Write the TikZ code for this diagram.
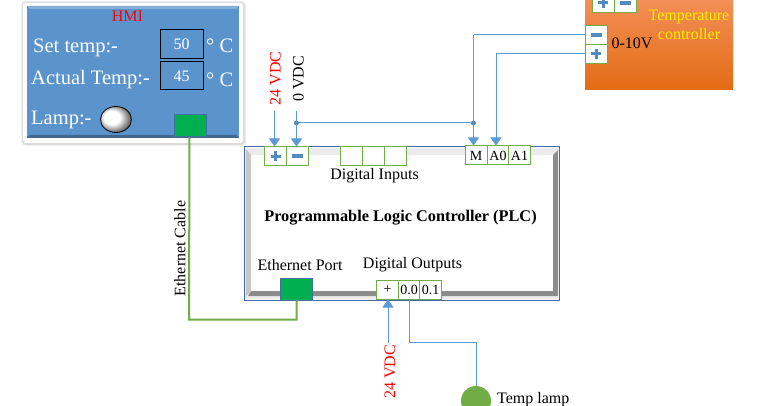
\documentclass[tikz,border=0pt]{standalone}
\usepackage{fontspec}
\setmainfont{Liberation Serif}
\usetikzlibrary{arrows.meta,calc,shapes.geometric}
\definecolor{wire}{HTML}{5B9BD5}
\definecolor{hmiblue}{HTML}{5B94CC}
\definecolor{gborder}{HTML}{70AD47}
\definecolor{portgreen}{HTML}{00B050}
\definecolor{portedge}{HTML}{41719C}
\definecolor{plcedge}{HTML}{4468A8}
\definecolor{ortop}{HTML}{F38F58}
\definecolor{orbot}{HTML}{E46C14}
\pgfdeclareradialshading{lampball}{\pgfpoint{-9bp}{5bp}}{color(0bp)=(white); color(13bp)=(white); color(27bp)=(black!60); color(50bp)=(black!60)}
\tikzset{
 lbl/.style={inner sep=0pt,font=\fontsize{16}{16}\selectfont},
 hmitext/.style={inner sep=0pt,text=white,font=\fontsize{20.5}{20.5}\selectfont},
 valbox/.style={draw=black,line width=1pt,minimum width=43pt,minimum height=29pt,inner sep=0pt,text=white,font=\fontsize{16}{16}\selectfont},
 term/.style={draw=gborder,line width=1pt,fill=white,minimum width=22pt,minimum height=19pt,inner sep=0pt,font=\fontsize{14}{14}\selectfont},
 port/.style={draw=portedge,line width=1pt,fill=portgreen,minimum width=32pt,minimum height=22pt,inner sep=0pt},
 feed/.style={draw=wire,line width=1pt},
 feedarrow/.style={feed,-{Triangle[length=8pt,width=11pt,fill=wire]}},
 eth/.style={draw=gborder,line width=2pt},
 junction/.style={circle,fill=wire!85!black,minimum size=5pt,inner sep=0pt}
}
\newcommand{\plusglyph}[1]{\fill[wire!90!black] ($(#1)+(-5,-1.5)$) rectangle ($(#1)+(5,1.5)$); \fill[wire!90!black] ($(#1)+(-1.5,-5)$) rectangle ($(#1)+(1.5,5)$);}
\newcommand{\minusglyph}[1]{\fill[wire!90!black] ($(#1)+(-5.5,-2)$) rectangle ($(#1)+(5.5,2)$);}
\begin{document}
\begin{tikzpicture}[x=1pt,y=-1pt]
\useasboundingbox (0,0) rectangle (773,406);
\clip (0,0) rectangle (773,406);
\fill[white] (0,0) rectangle (773,406);
% HMI panel
\fill[black!6,rounded corners=4pt] (21,1) rectangle (246,146);
\fill[black!14,rounded corners=4pt] (22,2) rectangle (245,145);
\fill[white,rounded corners=3pt] (23,3) rectangle (243,143);
\fill[hmiblue] (27,6) rectangle (239,138);
\fill[hmiblue!75!white] (27,6) -- (239,6) -- (236,9) -- (30,9) -- cycle;
\fill[hmiblue!70!black] (27,138) -- (239,138) -- (236,135) -- (30,135) -- cycle;
\node[inner sep=0pt,text=red,font=\fontsize{16}{16}\selectfont] (hmi) at (127.5,16) {HMI};
\node[hmitext,anchor=base west] (settemp) at (33,52.5) {Set temp:-};
\node[hmitext,anchor=base west] (acttemp) at (31,84.5) {Actual Temp:-};
\node[hmitext,anchor=base west] (lamplabel) at (31,124.5) {Lamp:-};
\node[valbox] (setval) at (181.5,44) {50};
\node[valbox,minimum height=28pt] (actval) at (181.5,76) {45};
\node[hmitext,anchor=base west] (deg1) at (206,52.5) {° C};
\node[hmitext,anchor=base west] (deg2) at (206,87) {° C};
\node[draw=black,line width=.8pt,ellipse,minimum width=31pt,minimum height=26pt,inner sep=0pt,shading=lampball] (hmilamp) at (116,119.5) {};
\node[port] (hmiport) at (190.5,126) {};
% PLC
\fill[white] (244,147) rectangle (559,300);
\fill[black!8] (245,148) rectangle (558,299);
\fill[white] (251,155) rectangle (553,291);
\fill[black!45] (251,291) -- (553,291) -- (553,155) -- (558,150) -- (558,296) -- (248,296) -- cycle;
\fill[black!22] (246,149) -- (251,155) -- (251,291) -- (246,296) -- cycle;
\draw[plcedge,line width=1pt] (244,147) rectangle (559,300);
\node[term] (plus) at (275.5,156.5) {};
\node[term] (minus) at (297.5,156.5) {};
\plusglyph{plus}
\minusglyph{minus}
\node[term] (di1) at (351,156.5) {};
\node[term] (di2) at (373,156.5) {};
\node[term] (di3) at (395,156.5) {};
\node[term] (mterm) at (476,155.5) {M};
\node[term] (azero) at (498,155.5) {A0};
\node[term] (aone) at (519.5,155.5) {A1};
\node[lbl] (dilabel) at (374.5,176) {Digital Inputs};
\node[lbl,font=\fontsize{16.3}{16.3}\selectfont\bfseries] (plc) at (400.5,218) {Programmable Logic Controller (PLC)};
\node[lbl] (ethlabel) at (300,265) {Ethernet Port};
\node[lbl] (dolabel) at (412.5,265) {Digital Outputs};
\node[port] (plcport) at (296.5,289) {};
\node[term] (doplus) at (387.5,289.5) {+};
\node[term] (dozero) at (409,289.5) {0.0};
\node[term] (doone) at (430.5,289.5) {0.1};
% Temperature controller
\shade[top color=ortop,bottom color=orbot] (585,-2) rectangle (733,90);
\node[term] (tcplus) at (603,3) {};
\node[term] (tcminus) at (625,3) {};
\plusglyph{tcplus}
\minusglyph{tcminus}
\node[term] (outminus) at (596,35) {};
\node[term] (outplus) at (596,54) {};
\minusglyph{outminus}
\plusglyph{outplus}
\node[lbl] (range) at (632,43) {0-10V};
\node[lbl,text=yellow,align=center,font=\fontsize{16}{19}\selectfont] (tclabel) at (689,25) {Temperature\\controller};
% Labels
\node[lbl,rotate=90,text=red] (vplus) at (275.5,78.5) {24 VDC};
\node[lbl,rotate=90] (vzero) at (298.5,79) {0 VDC};
\node[lbl,rotate=90,text=red] (vout) at (390,372) {24 VDC};
\node[lbl,rotate=90] (ethcable) at (180,248.5) {Ethernet Cable};
% Lamp
\node[circle,fill=gborder,minimum size=30pt,inner sep=0pt] (templamp) at (476,401) {};
\node[lbl,anchor=base west] (lamptext) at (497,403) {Temp lamp};
% Wires
\coordinate (vplusend) at (274.5,111);
\coordinate (vzeroend) at (296.5,111);
\coordinate (voutend) at (388,343);
\node[junction] (jleft) at (296.5,123) {};
\node[junction] (jright) at (473.5,123) {};
\draw[feedarrow] (vplusend) -- (plus.north -| vplusend);
\draw[feedarrow] (vzeroend) -- (minus.north -| vzeroend);
\draw[feed] (jleft) -- (jright);
\draw[feedarrow] (jright |- outminus.west) -- (mterm.north -| jright);
\draw[feed] (outminus.west) -- (jright |- outminus.west);
\coordinate (azerotop) at ($(outplus.west -| azero.north)+(-2,0)$);
\draw[feedarrow] (azerotop) -- (azerotop |- azero.north);
\draw[feed] (outplus.west) -- (azerotop);
\draw[feedarrow] (voutend) -- (voutend |- doplus.south);
\draw[feed] (dozero.south) -- (dozero.south |- 0,342) -- (templamp.north |- 0,342) -- (templamp.north);
\draw[eth] ($(hmiport.south)+(-1,0)$) -- (189,319.5) -- (plcport.south |- 0,319.5) -- (plcport.south);
\end{tikzpicture}
\end{document}
